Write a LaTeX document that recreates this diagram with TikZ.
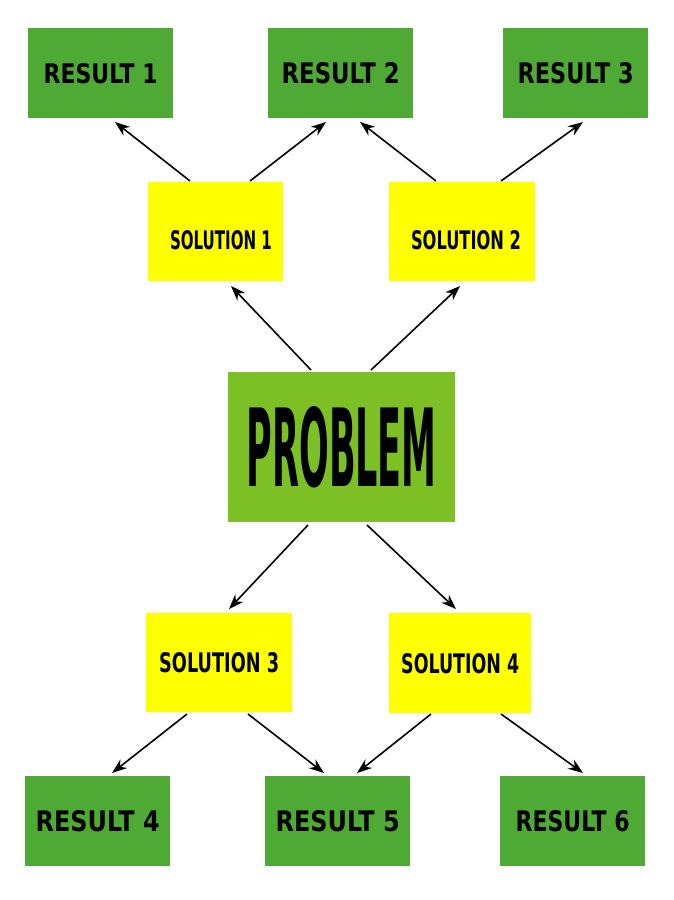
\documentclass[tikz,border=0pt]{standalone}
\usepackage{fontspec}
\setmainfont{DejaVu Sans}
\usetikzlibrary{arrows.meta}
\definecolor{resg}{RGB}{78,170,52}
\definecolor{probg}{RGB}{124,192,38}
\definecolor{soly}{RGB}{255,255,0}
\newcommand{\lbl}[3]{\resizebox{#1pt}{#2pt}{\bfseries #3}}
\begin{document}
\begin{tikzpicture}[x=1pt,y=-1pt,
  box/.style={inner sep=0pt,anchor=north west},
  res/.style={box,fill=resg,minimum width=145pt,minimum height=90pt},
  sol/.style={box,fill=soly,minimum width=142pt,minimum height=99pt},
  arr/.style={-{Stealth[length=15pt,width=11pt]},line width=1.6pt}]
\useasboundingbox (0,0) rectangle (673,900);
\node[res] (r1) at (28,28) {\lbl{114}{20}{RESULT 1}};
\node[res] (r2) at (268,28) {\lbl{118}{21}{RESULT 2}};
\node[res] (r3) at (503,28) {\lbl{116}{21}{RESULT 3}};
\node[sol,minimum width=135pt] (s1) at (148,182) {};
\node[sol,minimum width=146pt] (s2) at (389,182) {};
\node[inner sep=0pt] (t1) at (221,240) {\lbl{102}{19}{SOLUTION 1}};
\node[inner sep=0pt] (t2) at (466,240) {\lbl{110}{19}{SOLUTION 2}};
\node[box,fill=probg,minimum width=227pt,minimum height=150pt] (p) at (228,372) {\lbl{190}{80}{PROBLEM}};
\node[sol,minimum width=146pt] (s3) at (146,613) {\lbl{120}{20}{SOLUTION 3}};
\node[sol,minimum width=142pt,minimum height=100pt] (s4) at (389,613) {\lbl{118}{20}{SOLUTION 4}};
\node[res] (r4) at (25,776) {\lbl{124}{21}{RESULT 4}};
\node[res] (r5) at (265,776) {\lbl{124}{21}{RESULT 5}};
\node[res] (r6) at (500,776) {\lbl{114}{21}{RESULT 6}};
\draw[arr] (190,181) -- (115,122);
\draw[arr] (250,181) -- (326,122);
\draw[arr] (436,181) -- (360,122);
\draw[arr] (501,181) -- (583,122);
\draw[arr] (311,370) -- (231,286);
\draw[arr] (371,370) -- (460,286);
\draw[arr] (308,525) -- (229,609);
\draw[arr] (367,525) -- (456,609);
\draw[arr] (187,714) -- (112,773);
\draw[arr] (248,714) -- (324,773);
\draw[arr] (431,714) -- (357,773);
\draw[arr] (501,714) -- (583,773);
\end{tikzpicture}
\end{document}
